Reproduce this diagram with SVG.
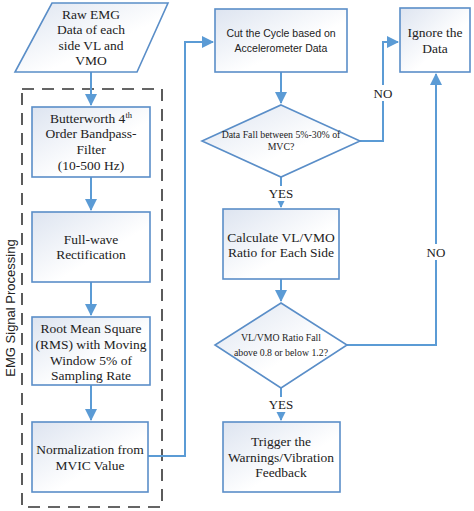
<svg xmlns="http://www.w3.org/2000/svg" width="474" height="511" viewBox="0 0 474 511">
<defs>
<linearGradient id="g" x1="0" y1="0" x2="1" y2="1">
<stop offset="0" stop-color="#dde4f0"/>
<stop offset="0.6" stop-color="#ffffff"/>
</linearGradient>
<marker id="ah" markerUnits="userSpaceOnUse" markerWidth="12" markerHeight="12" viewBox="0 0 12 12" refX="11" refY="6" orient="auto">
<path d="M0,0 L12,6 L0,12 Z" fill="#5b9bd5"/>
</marker>
</defs>
<style>
.box{fill:url(#g);stroke:#5a8ec8;stroke-width:1.6}
.t{font-family:"Liberation Serif","Times New Roman",serif;font-size:13.5px;fill:#222;text-anchor:middle}
.s{font-family:"Liberation Sans",Arial,sans-serif;font-size:10.5px;fill:#222;text-anchor:middle}
.d{font-family:"Liberation Serif","Times New Roman",serif;font-size:9.8px;fill:#222;text-anchor:middle}
.lbl{font-family:"Liberation Serif","Times New Roman",serif;font-size:13px;fill:#222;text-anchor:middle}
.c{fill:none;stroke:#5b9bd5;stroke-width:2}
</style>
<rect width="474" height="511" fill="#fff"/>
<rect id="emg-group" x="22" y="89" width="140" height="418" fill="none" stroke="#333" stroke-width="1.6" stroke-dasharray="12,8"/>
<text x="15" y="308" transform="rotate(-90 15 308)" font-family="'Liberation Sans',Arial,sans-serif" font-size="13" fill="#222" text-anchor="middle">EMG Signal Processing</text>
<g id="connectors">
<path class="c" d="M91,72 V105" marker-end="url(#ah)"/>
<path class="c" d="M91,177 V210" marker-end="url(#ah)"/>
<path class="c" d="M91,282 V315" marker-end="url(#ah)"/>
<path class="c" d="M91,385 V420" marker-end="url(#ah)"/>
<path class="c" d="M148,456 H185 V42 H213" marker-end="url(#ah)"/>
<path class="c" d="M281,72 V103" marker-end="url(#ah)"/>
<path class="c" d="M360,141 H383 V42 H398" marker-end="url(#ah)"/>
<path class="c" d="M281,177 V207" marker-end="url(#ah)"/>
<path class="c" d="M281,279 V301" marker-end="url(#ah)"/>
<path class="c" d="M347,345 H436 V74" marker-end="url(#ah)"/>
<path class="c" d="M281,388 V420" marker-end="url(#ah)"/>
<rect x="372" y="85" width="22" height="16" fill="#fff"/>
<text class="lbl" x="383" y="98">NO</text>
<rect x="425" y="244" width="22" height="16" fill="#fff"/>
<text class="lbl" x="436" y="257">NO</text>
<rect x="267" y="186" width="28" height="15" fill="#fff"/>
<text class="lbl" x="281" y="198">YES</text>
<rect x="267" y="397" width="28" height="15" fill="#fff"/>
<text class="lbl" x="281" y="409">YES</text>
</g>
<g id="raw-emg">
<polygon class="box" points="52,3 168,3 137,72 15,72"/>
<text class="t" x="91" y="19">Raw EMG</text>
<text class="t" x="91" y="34">Data of each</text>
<text class="t" x="91" y="50">side VL and</text>
<text class="t" x="91" y="65">VMO</text>
</g>
<g id="butterworth">
<rect class="box" x="32" y="107" width="118" height="70"/>
<text class="t" x="91" y="123">Butterworth 4<tspan font-size="8.5" dy="-5">th</tspan></text>
<text class="t" x="91" y="138">Order Bandpass-</text>
<text class="t" x="91" y="154">Filter</text>
<text class="t" x="91" y="170">(10-500 Hz)</text>
</g>
<g id="rectification">
<rect class="box" x="32" y="212" width="118" height="70"/>
<text class="t" x="91" y="244">Full-wave</text>
<text class="t" x="91" y="259">Rectification</text>
</g>
<g id="rms">
<rect class="box" x="32" y="317" width="118" height="68"/>
<text class="t" x="91" y="333">Root Mean Square</text>
<text class="t" x="91" y="349">(RMS) with Moving</text>
<text class="t" x="91" y="365">Window 5% of</text>
<text class="t" x="91" y="380">Sampling Rate</text>
</g>
<g id="normalization">
<rect class="box" x="32" y="422" width="116" height="70"/>
<text class="t" x="90" y="454">Normalization from</text>
<text class="t" x="90" y="470">MVIC Value</text>
</g>
<g id="cut-cycle">
<rect class="box" x="215" y="9" width="132" height="63"/>
<text class="s" x="281" y="37">Cut the Cycle based on</text>
<text class="s" x="281" y="52">Accelerometer Data</text>
</g>
<g id="ignore">
<rect class="box" x="400" y="8" width="70" height="64"/>
<text class="t" x="435" y="37">Ignore the</text>
<text class="t" x="435" y="53">Data</text>
</g>
<g id="decision-1">
<polygon class="box" points="281,105 360,141 281,177 202,141"/>
<text class="d" x="281" y="138">Data Fall between 5%-30% of</text>
<text class="d" x="281" y="150">MVC?</text>
</g>
<g id="calculate">
<rect class="box" x="223" y="209" width="116" height="70"/>
<text class="t" x="281" y="242">Calculate VL/VMO</text>
<text class="t" x="281" y="257">Ratio for Each Side</text>
</g>
<g id="decision-2">
<polygon class="box" points="281,303 347,345 281,388 215,345"/>
<text class="d" x="281" y="341">VL/VMO Ratio Fall</text>
<text class="d" x="281" y="356">above 0.8 or below 1.2?</text>
</g>
<g id="trigger">
<rect class="box" x="223" y="422" width="117" height="70"/>
<text class="t" x="281" y="446">Trigger the</text>
<text class="t" x="281" y="462">Warnings/Vibration</text>
<text class="t" x="281" y="477">Feedback</text>
</g>
</svg>
